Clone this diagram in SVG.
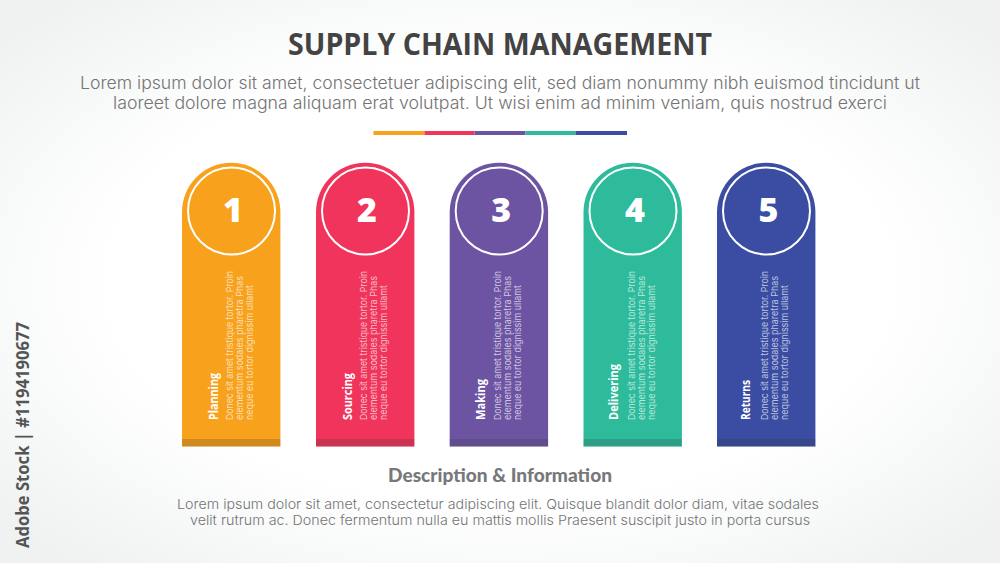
<svg xmlns="http://www.w3.org/2000/svg" width="1000" height="563" viewBox="0 0 1000 563">
<style>
.title{font:700 30px "Open Sans",sans-serif;fill:#434343}
.sub{font:300 17px Inter,"Noto Sans",sans-serif;fill:#747474}
.head{font:900 18.5px Lato,sans-serif;fill:#77787a}
.body{font:300 13.5px Inter,"Noto Sans",sans-serif;fill:#747474}
.num{font:800 34px "Open Sans",sans-serif;fill:#fff;text-anchor:middle}
.name{font:700 12px "Open Sans",sans-serif;fill:#fff}
.desc{font:400 9.5px Inter,"Noto Sans",sans-serif;fill:#fff;fill-opacity:.68}
.ring{fill:none;stroke:#fff;stroke-width:2}
.band{fill:#333;fill-opacity:.2}
.side{font:700 18px "Open Sans",sans-serif;fill:#555}
</style>
<defs>
<radialGradient id="bg" cx="50%" cy="50%" r="65%"><stop offset="0.6" stop-color="#ffffff"/><stop offset="1" stop-color="#f0f2f2"/></radialGradient>
<path id="card" d="M0 283.5V49a49.2 49.2 0 0 1 98.4 0V283.5Z"/>
<rect id="cardband" y="276" width="98.4" height="7.5" class="band"/>
<g id="copy">
<text class="desc" transform="translate(233,420) rotate(-90)" textLength="149" lengthAdjust="spacingAndGlyphs">Donec sit amet tristique tortor. Proin</text>
<text class="desc" transform="translate(243,420) rotate(-90)" textLength="144" lengthAdjust="spacingAndGlyphs">elementum sodales pharetra Phas</text>
<text class="desc" transform="translate(253,420) rotate(-90)" textLength="135" lengthAdjust="spacingAndGlyphs">neque eu tortor dignissim ullamt</text>
</g>
</defs>
<rect id="background" width="1000" height="563" fill="url(#bg)"/>
<g id="header">
<text class="title" x="288" y="55" textLength="424" lengthAdjust="spacingAndGlyphs">SUPPLY CHAIN MANAGEMENT</text>
<text class="sub" x="80" y="89" textLength="840" lengthAdjust="spacingAndGlyphs">Lorem ipsum dolor sit amet, consectetuer adipiscing elit, sed diam nonummy nibh euismod tincidunt ut</text>
<text class="sub" x="113" y="109" textLength="774" lengthAdjust="spacingAndGlyphs">laoreet dolore magna aliquam erat volutpat. Ut wisi enim ad minim veniam, quis nostrud exerci</text>
<rect x="373.5" y="131" width="51" height="4" fill="#f7a11c"/>
<rect x="424.5" y="131" width="50" height="4" fill="#f0345b"/>
<rect x="474.5" y="131" width="51" height="4" fill="#6c54a3"/>
<rect x="525.5" y="131" width="50" height="4" fill="#2dbb9b"/>
<rect x="575.5" y="131" width="51.5" height="4" fill="#3a4da2"/>
</g>
<g id="node1" transform="translate(182,163)"><use href="#card" fill="#f7a11c"/><use href="#cardband"/><circle class="ring" cx="49.5" cy="48" r="43.5"/><text class="num" x="51" y="59">1</text><text class="name" transform="translate(36,257) rotate(-90)" textLength="47" lengthAdjust="spacingAndGlyphs">Planning</text><use href="#copy" x="-182" y="-163"/></g>
<g id="node2" transform="translate(316,163)"><use href="#card" fill="#f0345b"/><use href="#cardband"/><circle class="ring" cx="49.5" cy="48" r="43.5"/><text class="num" x="51" y="59">2</text><text class="name" transform="translate(36,257) rotate(-90)" textLength="47" lengthAdjust="spacingAndGlyphs">Sourcing</text><use href="#copy" x="-182" y="-163"/></g>
<g id="node3" transform="translate(449.7,163)"><use href="#card" fill="#6c54a3"/><use href="#cardband"/><circle class="ring" cx="49.5" cy="48" r="43.5"/><text class="num" x="51.5" y="59">3</text><text class="name" transform="translate(35,257) rotate(-90)" textLength="41" lengthAdjust="spacingAndGlyphs">Making</text><use href="#copy" x="-182" y="-163"/></g>
<g id="node4" transform="translate(583.5,163)"><use href="#card" fill="#2dbb9b"/><use href="#cardband"/><circle class="ring" cx="49.5" cy="48" r="43.5"/><text class="num" x="51.5" y="59">4</text><text class="name" transform="translate(34.5,257) rotate(-90)" textLength="56" lengthAdjust="spacingAndGlyphs">Delivering</text><use href="#copy" x="-182" y="-163"/></g>
<g id="node5" transform="translate(717,163)"><use href="#card" fill="#3a4da2"/><use href="#cardband"/><circle class="ring" cx="49.5" cy="48" r="43.5"/><text class="num" x="51.5" y="59">5</text><text class="name" transform="translate(33,257) rotate(-90)" textLength="40" lengthAdjust="spacingAndGlyphs">Returns</text><use href="#copy" x="-182" y="-163"/></g>
<g id="connectors"/>
<g id="footer">
<text class="head" x="388" y="482" textLength="224" lengthAdjust="spacingAndGlyphs">Description &amp; Information</text>
<text class="body" x="177" y="509" textLength="642" lengthAdjust="spacingAndGlyphs">Lorem ipsum dolor sit amet, consectetur adipiscing elit. Quisque blandit dolor diam, vitae sodales</text>
<text class="body" x="190" y="525" textLength="620" lengthAdjust="spacingAndGlyphs">velit rutrum ac. Donec fermentum nulla eu mattis mollis Praesent suscipit justo in porta cursus</text>
</g>
<text class="side" transform="translate(29,548) rotate(-90)" textLength="226" lengthAdjust="spacingAndGlyphs">Adobe Stock | #1194190677</text>
</svg>
